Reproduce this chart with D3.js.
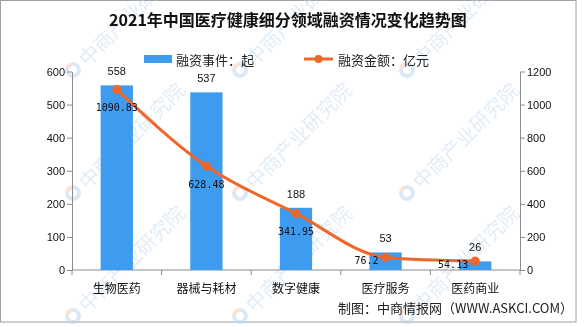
<!DOCTYPE html>
<html>
<head>
<meta charset="utf-8">
<script src="https://cdn.jsdelivr.net/npm/d3@7"></script>
<style>
  body { margin: 0; background: #fff; }
  svg { display: block; }
</style>
</head>
<body>
<div id="chart"></div>
<script>
// chart data
var categories = ["生物医药", "器械与耗材", "数字健康", "医疗服务", "医药商业"];
var eventCounts = [558, 537, 188, 53, 26];       // 融资事件：起
var amounts = [1090.83, 628.48, 341.95, 76.2, 54.13]; // 融资金额：亿元
var leftTicks = [0, 100, 200, 300, 400, 500, 600];
var rightTicks = [0, 200, 400, 600, 800, 1000, 1200];

var width = 585, height = 327;
var barColor = "#3d9bf0", lineColor = "#f0672a", axisColor = "#8c8c8c";
var cjk = "'Noto Sans CJK SC', 'Noto Sans', sans-serif";

var svg = d3.select("#chart").append("svg")
    .attr("width", width)
    .attr("height", height);

// frame
svg.append("rect")
    .attr("x", 0.5).attr("y", 0.5)
    .attr("width", 575.5).attr("height", 321.5)
    .attr("fill", "#fff")
    .attr("stroke", "#a0a0a0");

// scales
var x = d3.scaleBand()
    .domain(categories)
    .range([72, 520])
    .paddingInner(0.64)
    .paddingOuter(0.32);
var yL = d3.scaleLinear().domain([0, 600]).range([270, 71.5]);
var yR = d3.scaleLinear().domain([0, 1200]).range([270, 71.5]);
var cx = function(d) { return x(d) + x.bandwidth() / 2; };

// watermark grid (drawn under the marks)
var wmX = [73, 240, 407];
var wmY = [70, 193, 316];
var wm = svg.append("g").attr("pointer-events", "none").attr("opacity", 0.5);
wmX.forEach(function(px) {
    wmY.forEach(function(py) {
        var g = wm.append("g").attr("transform", "translate(" + px + "," + py + ") rotate(-45)");
        g.append("path")
            .attr("d", d3.arc()({innerRadius: 4, outerRadius: 8, startAngle: 0.6, endAngle: 2 * Math.PI - 0.6}))
            .attr("fill", "#b7d3ee");
        g.append("path")
            .attr("d", d3.arc()({innerRadius: 4, outerRadius: 8, startAngle: -0.6, endAngle: 0.6}))
            .attr("fill", "#f6c3b0");
        g.append("text")
            .attr("x", 12).attr("y", 0)
            .attr("dominant-baseline", "central")
            .style("font-family", cjk).style("font-size", "20px")
            .attr("fill", "#c4d9ee")
            .text("中商产业研究院");
    });
});

// title
svg.append("text")
    .attr("x", 288).attr("y", 19)
    .attr("text-anchor", "middle")
    .attr("dominant-baseline", "central")
    .style("font-family", cjk)
    .style("font-weight", "bold")
    .style("font-size", "16px")
    .attr("fill", "#111")
    .text("2021年中国医疗健康细分领域融资情况变化趋势图");

// legend
var legend = svg.append("g").style("font-family", cjk).style("font-size", "13px");
legend.append("rect")
    .attr("x", 144).attr("y", 55).attr("width", 28).attr("height", 8)
    .attr("fill", barColor);
legend.append("text")
    .attr("x", 176).attr("y", 59).attr("dominant-baseline", "central")
    .attr("fill", "#222").text("融资事件：起");
legend.append("line")
    .attr("x1", 304).attr("x2", 333).attr("y1", 59).attr("y2", 59)
    .attr("stroke", lineColor).attr("stroke-width", 3);
legend.append("circle")
    .attr("cx", 318.5).attr("cy", 59).attr("r", 4)
    .attr("fill", lineColor);
legend.append("text")
    .attr("x", 338).attr("y", 59).attr("dominant-baseline", "central")
    .attr("fill", "#222").text("融资金额：亿元");

// left axis
var axL = svg.append("g")
    .attr("transform", "translate(72,0)")
    .call(d3.axisLeft(yL).tickValues(leftTicks).tickFormat(d3.format("d")).tickSize(5).tickSizeOuter(0));
// right axis
var axR = svg.append("g")
    .attr("transform", "translate(520,0)")
    .call(d3.axisRight(yR).tickValues(rightTicks).tickFormat(d3.format("d")).tickSize(5).tickSizeOuter(0));
[axL, axR].forEach(function(ax) {
    ax.select(".domain").attr("stroke", axisColor);
    ax.selectAll(".tick line").attr("stroke", axisColor);
    ax.selectAll(".tick text")
        .attr("fill", "#111")
        .style("font-family", "'Liberation Sans', Arial, sans-serif")
        .style("font-size", "11px");
});
axL.selectAll(".tick text").attr("x", -7);
axR.selectAll(".tick text").attr("x", 7);

// bottom axis: baseline, boundary ticks, category labels
var axB = svg.append("g").attr("transform", "translate(0,270)");
axB.append("line")
    .attr("x1", 72).attr("x2", 520)
    .attr("stroke", axisColor);
var bounds = d3.range(categories.length + 1).map(function(i) { return 72 + i * x.step(); });
axB.selectAll("line.bound")
    .data(bounds).enter()
    .append("line")
    .attr("class", "bound")
    .attr("x1", function(d) { return d; }).attr("x2", function(d) { return d; })
    .attr("y1", 0).attr("y2", 5)
    .attr("stroke", axisColor);
axB.selectAll("text")
    .data(categories).enter()
    .append("text")
    .attr("x", cx).attr("y", 17)
    .attr("text-anchor", "middle")
    .attr("dominant-baseline", "central")
    .style("font-family", cjk).style("font-size", "12px")
    .attr("fill", "#111")
    .text(function(d) { return d; });

// bars
svg.selectAll("rect.bar")
    .data(eventCounts).enter()
    .append("rect")
    .attr("class", "bar")
    .attr("x", function(d, i) { return x(categories[i]); })
    .attr("y", function(d) { return yL(d); })
    .attr("width", x.bandwidth())
    .attr("height", function(d) { return yL(0) - yL(d); })
    .attr("fill", barColor);

// bar labels
svg.selectAll("text.barlabel")
    .data(eventCounts).enter()
    .append("text")
    .attr("class", "barlabel")
    .attr("x", function(d, i) { return cx(categories[i]); })
    .attr("y", function(d) { return yL(d) - 14; })
    .attr("text-anchor", "middle")
    .attr("dominant-baseline", "central")
    .style("font-family", "'Liberation Sans', Arial, sans-serif")
    .style("font-size", "11px")
    .attr("fill", "#111")
    .text(function(d) { return d; });

// amount line
var line = d3.line()
    .x(function(d, i) { return cx(categories[i]); })
    .y(function(d) { return yR(d); })
    .curve(d3.curveMonotoneX);
svg.append("path")
    .datum(amounts)
    .attr("d", line)
    .attr("fill", "none")
    .attr("stroke", lineColor)
    .attr("stroke-width", 3);
svg.selectAll("circle.pt")
    .data(amounts).enter()
    .append("circle")
    .attr("class", "pt")
    .attr("cx", function(d, i) { return cx(categories[i]); })
    .attr("cy", function(d) { return yR(d); })
    .attr("r", 4.5)
    .attr("fill", lineColor);

// line labels: below the point, or to the left when the point sits low
svg.selectAll("text.amtlabel")
    .data(amounts).enter()
    .append("text")
    .attr("class", "amtlabel")
    .attr("x", function(d, i) { return d < 100 ? cx(categories[i]) - 7 : cx(categories[i]); })
    .attr("y", function(d) { return d < 100 ? yR(d) + 3 : yR(d) + 18; })
    .attr("text-anchor", function(d) { return d < 100 ? "end" : "middle"; })
    .attr("dominant-baseline", "central")
    .style("font-family", "'DejaVu Sans Mono', monospace")
    .style("font-size", "10px")
    .attr("fill", "#111")
    .text(function(d) { return d; });

// source note
svg.append("text")
    .attr("x", 573).attr("y", 307)
    .attr("text-anchor", "end")
    .attr("dominant-baseline", "central")
    .style("font-family", cjk).style("font-size", "13px")
    .attr("fill", "#222")
    .text("制图：中商情报网（WWW.ASKCI.COM）");
</script>
</body>
</html>
